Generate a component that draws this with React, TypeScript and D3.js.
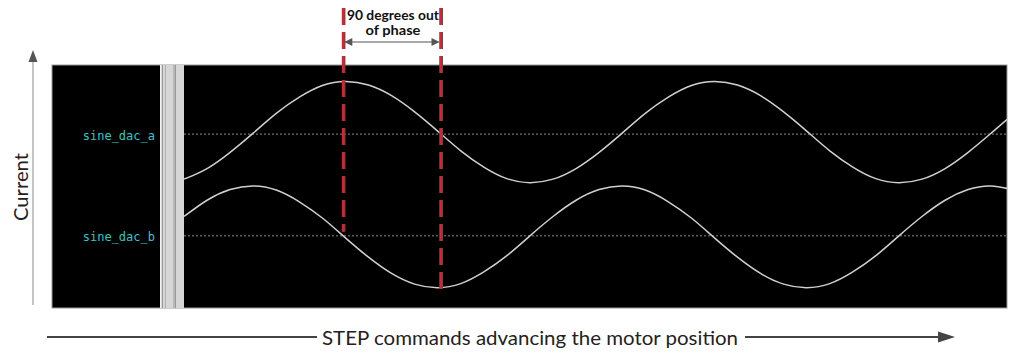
import React from 'react';
import * as d3 from 'd3';

// step positions (16 steps per electrical period)
const steps = [0, 1, 2, 3, 4, 5, 6, 7, 8, 9, 10, 11, 12, 13, 14, 15, 16, 17, 18, 19, 20, 21, 22, 23, 24, 25, 26, 27, 28, 29, 30, 31, 32, 33, 34, 35, 36];
// normalized coil currents
const sineDacA = [-0.93, -0.72, -0.4, -0.02, 0.37, 0.69, 0.92, 1.0, 0.93, 0.72, 0.4, 0.02, -0.37, -0.69, -0.92, -1.0,
  -0.93, -0.72, -0.4, -0.02, 0.37, 0.69, 0.92, 1.0, 0.93, 0.72, 0.4, 0.02, -0.37, -0.69, -0.92, -1.0,
  -0.93, -0.72, -0.4, -0.02, 0.37];
const sineDacB = [0.4, 0.72, 0.93, 1.0, 0.92, 0.69, 0.37, -0.02, -0.4, -0.72, -0.93, -1.0, -0.92, -0.69, -0.37, 0.02,
  0.4, 0.72, 0.93, 1.0, 0.92, 0.69, 0.37, -0.02, -0.4, -0.72, -0.93, -1.0, -0.92, -0.69, -0.37, 0.02,
  0.4, 0.72, 0.93, 1.0, 0.92];
const signalNames = ['sine_dac_a', 'sine_dac_b'];
const refLevels = [-0.04, 0.02];
const phaseMarkers = [6.9, 11.13];
const phaseLabel = ['90 degrees out', 'of phase'];
const yAxisLabel = 'Current';
const xAxisLabel = 'STEP commands advancing the motor position';

const W = 1024;
const H = 363;
const panel = { x0: 52, x1: 1007, y0: 65, y1: 308 };
const traceX0 = 184;

export default function App() {
  const x = d3.scaleLinear().domain([0, 16]).range([traceX0, traceX0 + 369]);
  const yScales = [
    d3.scaleLinear().domain([-1, 1]).range([182.7, 81.5]),
    d3.scaleLinear().domain([-1, 1]).range([287.7, 186]),
  ];
  const series = [sineDacA, sineDacB];
  const paths = series.map((vals, i) =>
    d3.line<number>()
      .x((_, j) => x(steps[j]))
      .y((v) => yScales[i](v))
      .curve(d3.curveNatural)(vals) as string
  );
  const markerEnds = [yScales[1](0.1), yScales[1](-1) + 5];
  const labelFont = 'Lato, "Open Sans", sans-serif';
  const mid = (x(phaseMarkers[0]) + x(phaseMarkers[1])) / 2 + 1;

  return (
    <svg width={W} height={H} style={{ position: 'absolute', left: 0, top: 0, background: '#fff' }}>
      <defs>
        <clipPath id="traceClip">
          <rect x={traceX0} y={panel.y0} width={panel.x1 - traceX0} height={panel.y1 - panel.y0} />
        </clipPath>
        <marker id="headDark" viewBox="0 0 10 10" refX="9" refY="5" markerWidth="9" markerHeight="8" orient="auto-start-reverse" markerUnits="userSpaceOnUse">
          <path d="M0,0 L10,5 L0,10 z" fill="#555" />
        </marker>
      </defs>

      {/* waveform viewer panel */}
      <rect x={panel.x0} y={panel.y0} width={panel.x1 - panel.x0} height={panel.y1 - panel.y0} fill="#000" stroke="#9a9a9a" strokeWidth={1} />
      {/* separator bar */}
      <rect x={160} y={panel.y0} width={24} height={panel.y1 - panel.y0} fill="#d6d6d6" />
      <line x1={160.5} x2={160.5} y1={panel.y0} y2={panel.y1} stroke="#f2f2f2" />
      <line x1={162.5} x2={162.5} y1={panel.y0} y2={panel.y1} stroke="#9a9a9a" />
      <line x1={165.5} x2={165.5} y1={panel.y0} y2={panel.y1} stroke="#b0b0b0" />
      <line x1={174} x2={174} y1={panel.y0} y2={panel.y1} stroke="#999" />
      <line x1={175.5} x2={175.5} y1={panel.y0} y2={panel.y1} stroke="#999" />

      {/* signal names */}
      {signalNames.map((n, i) => (
        <text key={n} x={155} y={yScales[i](refLevels[i]) + 2} textAnchor="end" dominantBaseline="middle"
          fontFamily='"DejaVu Sans Mono", monospace' fontSize={12} fill="#33c7c7">{n}</text>
      ))}

      {/* reference dashed lines */}
      {refLevels.map((r, i) => (
        <line key={i} x1={traceX0} x2={panel.x1} y1={yScales[i](r)} y2={yScales[i](r)} stroke="#8a8a8a" strokeWidth={1} strokeDasharray="2,2" />
      ))}

      {/* traces */}
      <g clipPath="url(#traceClip)">
        {paths.map((d, i) => (
          <path key={i} d={d} fill="none" stroke="#d0d0d0" strokeWidth={1.5} />
        ))}
      </g>

      {/* phase markers */}
      {phaseMarkers.map((m, i) => (
        <g key={i}>
          <line x1={x(m) + 0.5} x2={x(m) + 0.5} y1={8} y2={markerEnds[i]} stroke="#6a4a4a" strokeWidth={3.6} strokeDasharray="17,7" />
          <line x1={x(m)} x2={x(m)} y1={8} y2={markerEnds[i]} stroke="#e0202b" strokeWidth={2.2} strokeDasharray="17,7" />
        </g>
      ))}
      <line x1={x(phaseMarkers[0]) + 2} x2={x(phaseMarkers[1]) - 2} y1={42} y2={42} stroke="#555" strokeWidth={1.2}
        markerStart="url(#headDark)" markerEnd="url(#headDark)" />
      <text x={mid} y={19.5} textAnchor="middle" textLength={92} lengthAdjust="spacingAndGlyphs"
        fontFamily={labelFont} fontWeight={700} fontSize={14} fill="#111">{phaseLabel[0]}</text>
      <text x={mid} y={34.5} textAnchor="middle" textLength={55} lengthAdjust="spacingAndGlyphs"
        fontFamily={labelFont} fontWeight={700} fontSize={14} fill="#111">{phaseLabel[1]}</text>

      {/* y axis arrow */}
      <line x1={33} x2={33} y1={305} y2={58} stroke="#c4c4c4" strokeWidth={2} />
      <path d="M28.5,62 L33,50 L37.5,62 z" fill="#555" />
      <text transform="translate(28,187) rotate(-90)" textAnchor="middle" textLength={68} lengthAdjust="spacingAndGlyphs"
        fontFamily={labelFont} fontSize={20} fill="#222">{yAxisLabel}</text>

      {/* x axis arrow */}
      <line x1={47} x2={317} y1={337} y2={337} stroke="#444" strokeWidth={2} />
      <line x1={745} x2={942} y1={337} y2={337} stroke="#444" strokeWidth={2} />
      <path d="M938,331.5 L955,337 L938,342.5 z" fill="#444" />
      <text x={322} y={345} textLength={416} lengthAdjust="spacingAndGlyphs" fontFamily={labelFont} fontSize={20} fill="#222">{xAxisLabel}</text>
    </svg>
  );
}
